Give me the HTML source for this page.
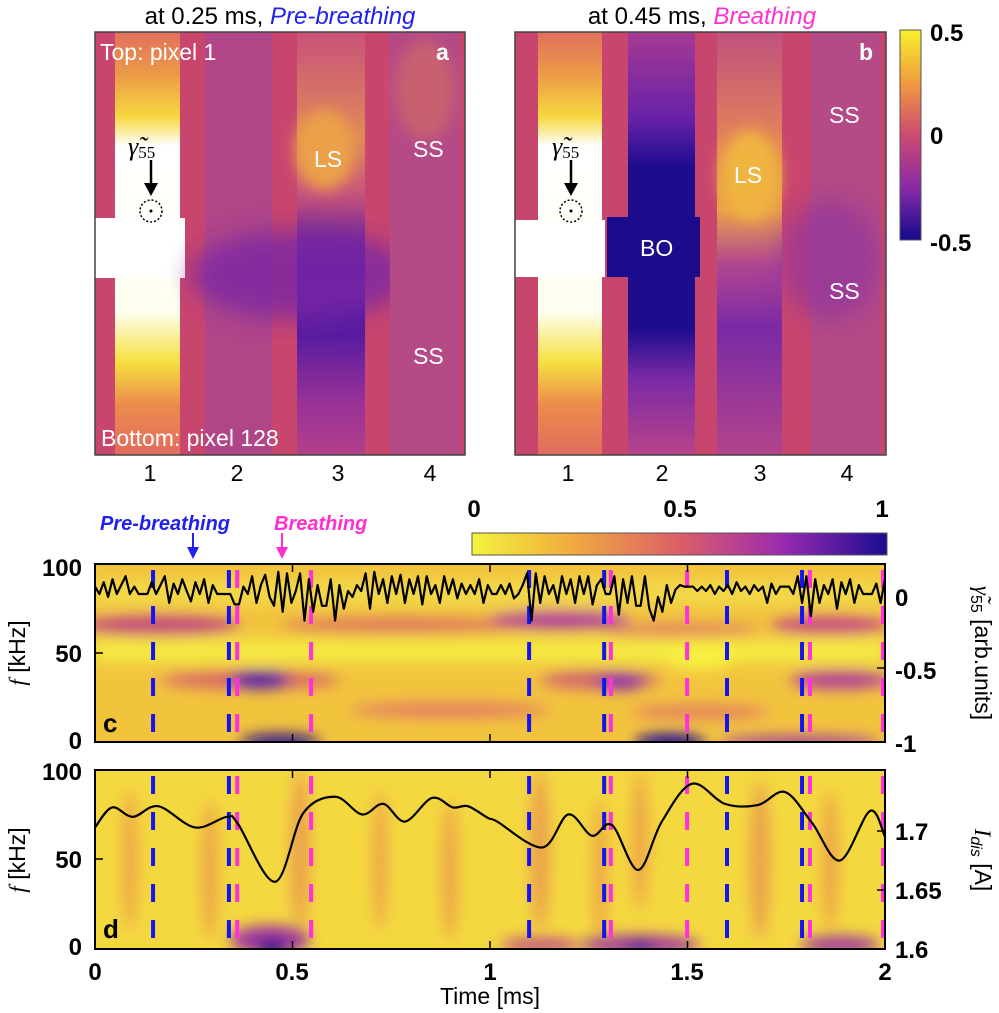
<!DOCTYPE html>
<html><head><meta charset="utf-8"><style>
html,body{margin:0;padding:0;background:#fff;}
svg{display:block;font-family:"Liberation Sans",sans-serif;}
.tk{font-weight:bold;font-size:24px;fill:#000;}
.ax{font-size:23px;fill:#000;}
.wl{fill:#fff;font-size:23px;}
</style></head><body>
<svg id="fig" width="999" height="1013" viewBox="0 0 999 1013">
<defs>
<filter id="bl" x="-50%" y="-50%" width="200%" height="200%"><feGaussianBlur stdDeviation="7"/></filter>
<filter id="bl2" x="-50%" y="-50%" width="200%" height="200%"><feGaussianBlur stdDeviation="4"/></filter>
<filter id="bl3" x="-50%" y="-50%" width="200%" height="200%"><feGaussianBlur stdDeviation="12"/></filter>
<linearGradient id="cbv" x1="0" y1="0" x2="0" y2="1">
<stop offset="0" stop-color="#f5f22a"/><stop offset="0.25" stop-color="#f29b3f"/><stop offset="0.5" stop-color="#cc4a70"/><stop offset="0.75" stop-color="#8a2aa8"/><stop offset="1" stop-color="#140a8c"/></linearGradient>
<linearGradient id="cbh" x1="0" y1="0" x2="1" y2="0">
<stop offset="0" stop-color="#f4f43a"/><stop offset="0.25" stop-color="#f0a840"/><stop offset="0.5" stop-color="#db5f68"/><stop offset="0.75" stop-color="#9a2ab0"/><stop offset="1" stop-color="#1a0c8e"/></linearGradient>
<linearGradient id="s1" x1="0" y1="0" x2="0" y2="1">
<stop offset="0" stop-color="#e0705c"/><stop offset="0.1" stop-color="#ec9a48"/><stop offset="0.2" stop-color="#f6d840"/><stop offset="0.27" stop-color="#ffffff"/><stop offset="0.66" stop-color="#fffff0"/><stop offset="0.78" stop-color="#f6e040"/><stop offset="0.88" stop-color="#ec8c4c"/><stop offset="1" stop-color="#e06c5e"/></linearGradient>
<linearGradient id="s3a" x1="0" y1="0" x2="0" y2="1">
<stop offset="0" stop-color="#c8527a"/><stop offset="0.25" stop-color="#e08a58"/><stop offset="0.38" stop-color="#c8547a"/><stop offset="0.55" stop-color="#4a16a2"/><stop offset="0.72" stop-color="#5a1ca0"/><stop offset="0.88" stop-color="#9a3296"/><stop offset="1" stop-color="#b2408a"/></linearGradient>
<linearGradient id="s2b" x1="0" y1="0" x2="0" y2="1">
<stop offset="0" stop-color="#a63a92"/><stop offset="0.2" stop-color="#6a22a8"/><stop offset="0.32" stop-color="#1c0c8e"/><stop offset="0.7" stop-color="#1c0c8e"/><stop offset="0.82" stop-color="#7a2aa6"/><stop offset="1" stop-color="#b8448a"/></linearGradient>
<linearGradient id="s3b" x1="0" y1="0" x2="0" y2="1">
<stop offset="0" stop-color="#c0507e"/><stop offset="0.25" stop-color="#e2825a"/><stop offset="0.42" stop-color="#eca04a"/><stop offset="0.55" stop-color="#b04690"/><stop offset="0.7" stop-color="#7a2aa6"/><stop offset="1" stop-color="#b2448a"/></linearGradient>
<clipPath id="cpc"><rect x="95" y="564" width="790" height="178"/></clipPath>
<clipPath id="cpd"><rect x="95" y="770" width="790" height="179"/></clipPath>
<clipPath id="cpa"><rect x="95" y="32" width="370" height="423"/></clipPath>
<clipPath id="cpb"><rect x="515" y="32" width="371" height="423"/></clipPath>
</defs>

<text x="280" y="24" text-anchor="middle" font-size="24">at 0.25 ms, <tspan font-style="italic" fill="#2020f0">Pre-breathing</tspan></text>
<text x="702" y="24" text-anchor="middle" font-size="24">at 0.45 ms, <tspan font-style="italic" fill="#ff30d0">Breathing</tspan></text>

<!-- Panel a -->
<g clip-path="url(#cpa)">
<rect x="95" y="32" width="370" height="423" fill="#c8466e"/>
<rect x="115" y="32" width="65" height="423" fill="url(#s1)"/>
<rect x="95" y="218" width="90" height="60" fill="#fff"/>
<rect x="205" y="32" width="67" height="423" fill="#b04688"/>
<rect x="297" y="32" width="68" height="423" fill="url(#s3a)"/>
<ellipse cx="325" cy="150" rx="30" ry="40" fill="#eca048" filter="url(#bl)"/>
<ellipse cx="300" cy="275" rx="110" ry="45" fill="#7a28a4" filter="url(#bl3)" opacity="0.8"/>
<rect x="390" y="32" width="70" height="423" fill="#b44a86"/>
<ellipse cx="425" cy="90" rx="30" ry="50" fill="#c86070" filter="url(#bl)"/>
</g>
<rect x="95" y="32" width="370" height="423" fill="none" stroke="#444" stroke-width="1.5"/>
<text x="100" y="60" class="wl">Top: pixel 1</text>
<text x="436" y="60" class="wl" font-weight="bold">a</text>
<text x="314" y="167" class="wl">LS</text>
<text x="413" y="157" class="wl">SS</text>
<text x="413" y="364" class="wl">SS</text>
<text x="101" y="446" class="wl">Bottom: pixel 128</text>
<text x="128" y="155" font-family="Liberation Serif,serif" font-style="italic" font-size="26">γ̃<tspan font-size="17" dy="3" font-style="normal">55</tspan></text>
<line x1="151" y1="160" x2="151" y2="185" stroke="#000" stroke-width="2.5"/>
<polygon points="144,183 158,183 151,196" fill="#000"/>
<circle cx="151" cy="211" r="11" fill="none" stroke="#000" stroke-width="1.5" stroke-dasharray="2,2"/>
<circle cx="151" cy="211" r="1.5" fill="#000"/>
<g class="ax">
<text x="150" y="481" text-anchor="middle">1</text><text x="237" y="481" text-anchor="middle">2</text><text x="338" y="481" text-anchor="middle">3</text><text x="430" y="481" text-anchor="middle">4</text></g>

<!-- Panel b -->
<g clip-path="url(#cpb)">
<rect x="515" y="32" width="371" height="423" fill="#c8466e"/>
<rect x="538" y="32" width="64" height="423" fill="url(#s1)"/>
<rect x="515" y="220" width="90" height="57" fill="#fff"/>
<rect x="628" y="32" width="67" height="423" fill="url(#s2b)"/>
<rect x="607" y="217" width="93" height="60" fill="#1a0c8c"/>
<rect x="717" y="32" width="65" height="423" fill="url(#s3b)"/>
<ellipse cx="750" cy="175" rx="30" ry="45" fill="#f0b440" filter="url(#bl)"/>
<rect x="810" y="32" width="70" height="423" fill="#b44a86"/>
<ellipse cx="830" cy="260" rx="50" ry="60" fill="#8a30a2" filter="url(#bl3)" opacity="0.6"/>
</g>
<rect x="515" y="32" width="371" height="423" fill="none" stroke="#444" stroke-width="1.5"/>
<text x="859" y="60" class="wl" font-weight="bold">b</text>
<text x="640" y="256" class="wl" font-size="24">BO</text>
<text x="734" y="183" class="wl">LS</text>
<text x="829" y="123" class="wl">SS</text>
<text x="829" y="299" class="wl">SS</text>
<text x="552" y="155" font-family="Liberation Serif,serif" font-style="italic" font-size="26">γ̃<tspan font-size="17" dy="3" font-style="normal">55</tspan></text>
<line x1="571" y1="160" x2="571" y2="185" stroke="#000" stroke-width="2.5"/>
<polygon points="564,183 578,183 571,196" fill="#000"/>
<circle cx="571" cy="211" r="11" fill="none" stroke="#000" stroke-width="1.5" stroke-dasharray="2,2"/>
<circle cx="571" cy="211" r="1.5" fill="#000"/>
<g class="ax">
<text x="568" y="481" text-anchor="middle">1</text><text x="662" y="481" text-anchor="middle">2</text><text x="760" y="481" text-anchor="middle">3</text><text x="847" y="481" text-anchor="middle">4</text></g>

<g>
<rect x="900" y="30" width="21" height="210" fill="url(#cbv)" stroke="#555" stroke-width="1"/>
<text x="930" y="41" class="tk">0.5</text><text x="930" y="144" class="tk">0</text><text x="930" y="251" class="tk">-0.5</text>
</g>

<g>
<rect x="472" y="533" width="415" height="22" fill="url(#cbh)" stroke="#555" stroke-width="1"/>
<text x="474" y="517" class="tk" text-anchor="middle">0</text><text x="680" y="517" class="tk" text-anchor="middle">0.5</text><text x="882" y="517" class="tk" text-anchor="middle">1</text>
</g>

<text x="100" y="530" font-weight="bold" font-style="italic" font-size="20" fill="#2020f0">Pre-breathing</text>
<text x="274" y="530" font-weight="bold" font-style="italic" font-size="20" fill="#ff30d0">Breathing</text>
<line x1="193" y1="533" x2="193" y2="550" stroke="#2020f0" stroke-width="2"/><polygon points="187,547 199,547 193,559" fill="#2020f0"/>
<line x1="282" y1="533" x2="282" y2="550" stroke="#ff30d0" stroke-width="2"/><polygon points="276,547 288,547 282,559" fill="#ff30d0"/>

<!-- Spectrogram c -->
<g clip-path="url(#cpc)">
<rect x="95" y="564" width="790" height="178" fill="#f2c43e"/>
<g filter="url(#bl)">
<rect x="95" y="640" width="790" height="22" fill="#f4ea42"/>
<rect x="95" y="580" width="790" height="25" fill="#f2d84a"/>
<ellipse cx="160" cy="625" rx="80" ry="10" fill="#c44c80"/>
<ellipse cx="400" cy="625" rx="120" ry="8" fill="#e07a5e"/>
<ellipse cx="560" cy="620" rx="70" ry="9" fill="#b040a0"/>
<ellipse cx="830" cy="625" rx="60" ry="9" fill="#c84c84"/>
<ellipse cx="680" cy="630" rx="80" ry="7" fill="#e48860"/>
<ellipse cx="250" cy="680" rx="90" ry="9" fill="#d86868"/>
<ellipse cx="260" cy="680" rx="30" ry="9" fill="#5a1cac"/>
<ellipse cx="600" cy="680" rx="60" ry="9" fill="#d06470"/>
<ellipse cx="620" cy="682" rx="25" ry="8" fill="#8a2aae"/>
<ellipse cx="840" cy="680" rx="50" ry="9" fill="#b0409a"/>
<ellipse cx="280" cy="742" rx="40" ry="8" fill="#2a0e96"/>
<ellipse cx="670" cy="742" rx="35" ry="9" fill="#2a0e96"/>
<ellipse cx="800" cy="742" rx="80" ry="6" fill="#a034a8"/>
<ellipse cx="450" cy="710" rx="100" ry="8" fill="#e48060"/>
<ellipse cx="700" cy="712" rx="70" ry="7" fill="#e48060"/>
<ellipse cx="700" cy="655" rx="40" ry="15" fill="#f8f040"/>
</g>
</g>
<!-- Spectrogram d -->
<g clip-path="url(#cpd)">
<rect x="95" y="770" width="790" height="179" fill="#f4d840"/>
<g filter="url(#bl)" opacity="0.8">
<ellipse cx="130" cy="860" rx="8" ry="70" fill="#ec9c48"/>
<ellipse cx="210" cy="870" rx="9" ry="70" fill="#ec9c48"/>
<ellipse cx="300" cy="850" rx="10" ry="80" fill="#e89450"/>
<ellipse cx="380" cy="860" rx="8" ry="70" fill="#ec9c48"/>
<ellipse cx="450" cy="870" rx="9" ry="70" fill="#ec9c48"/>
<ellipse cx="540" cy="850" rx="10" ry="80" fill="#e89450"/>
<ellipse cx="600" cy="870" rx="8" ry="70" fill="#ec9c48"/>
<ellipse cx="640" cy="840" rx="9" ry="70" fill="#ec9c48"/>
<ellipse cx="760" cy="860" rx="10" ry="80" fill="#e89450"/>
<ellipse cx="830" cy="860" rx="9" ry="70" fill="#ec9c48"/>
</g>
<g filter="url(#bl)">
<ellipse cx="270" cy="940" rx="40" ry="15" fill="#a03aa0"/>
<ellipse cx="272" cy="948" rx="15" ry="9" fill="#22108e"/>
<ellipse cx="640" cy="945" rx="60" ry="10" fill="#a03aa0"/>
<ellipse cx="640" cy="948" rx="15" ry="6" fill="#3a14a0"/>
<ellipse cx="840" cy="945" rx="40" ry="9" fill="#a03aa0"/>
<ellipse cx="540" cy="945" rx="40" ry="7" fill="#c04c88"/>
</g>
</g>

<g id="overlays"></g>

<rect x="95" y="564" width="790" height="178" fill="none" stroke="#000" stroke-width="2"/>
<rect x="95" y="770" width="790" height="179" fill="none" stroke="#000" stroke-width="2"/>
<g class="tk">
<text x="82" y="576" text-anchor="end">100</text><text x="82" y="662" text-anchor="end">50</text><text x="82" y="749" text-anchor="end">0</text></g>
<g class="tk">
<text x="82" y="780" text-anchor="end">100</text><text x="82" y="868" text-anchor="end">50</text><text x="82" y="955" text-anchor="end">0</text></g>
<g class="tk">
<text x="895" y="606">0</text><text x="895" y="679">-0.5</text><text x="895" y="752">-1</text></g>
<g class="tk">
<text x="895" y="840">1.7</text><text x="895" y="899">1.65</text><text x="895" y="958">1.6</text></g>
<g class="tk">
<text x="95" y="980" text-anchor="middle">0</text><text x="292" y="980" text-anchor="middle">0.5</text><text x="490" y="980" text-anchor="middle">1</text><text x="687" y="980" text-anchor="middle">1.5</text><text x="885" y="980" text-anchor="middle">2</text></g>
<text x="490" y="1004" text-anchor="middle" class="ax">Time [ms]</text>
<text transform="translate(25,653) rotate(-90)" text-anchor="middle" font-size="23"><tspan font-family="Liberation Serif,serif" font-style="italic">f</tspan> [kHz]</text>
<text transform="translate(25,860) rotate(-90)" text-anchor="middle" font-size="23"><tspan font-family="Liberation Serif,serif" font-style="italic">f</tspan> [kHz]</text>
<text transform="translate(975,653) rotate(90)" text-anchor="middle" font-size="23"><tspan font-family="Liberation Serif,serif" font-style="italic">γ̃</tspan><tspan font-size="16" dy="4">55</tspan><tspan dy="-4"> [arb.units]</tspan></text>
<text transform="translate(975,860) rotate(90)" text-anchor="middle" font-size="23"><tspan font-family="Liberation Serif,serif" font-style="italic">I</tspan><tspan font-size="16" dy="4" font-style="italic">dis</tspan><tspan dy="-4"> [A]</tspan></text>
<text x="103" y="732" font-weight="bold" font-size="26">c</text>
<text x="103" y="938" font-weight="bold" font-size="26">d</text>
</svg>
<script>
const blueTimes = [0.147, 0.339, 1.099, 1.289, 1.60, 1.79];
const magentaTimes = [0.36, 0.547, 1.306, 1.499, 1.81, 1.995];
const gammaValues = [0.05,0.0,0.08,-0.02,0.1,0.0,0.06,0.12,0.0,0.05,0.0,0.0,0.0,0.08,0.0,0.06,0.12,-0.06,0.07,0.0,0.1,0.02,-0.05,0.08,0.0,0.1,-0.06,0.06,0.0,0.0,0.0,0.0,-0.07,-0.07,0.05,0.0,0.12,-0.06,0.06,0.13,-0.02,-0.08,0.15,-0.12,0.14,-0.06,0.02,0.14,-0.18,0.1,-0.12,0.06,-0.08,-0.08,0.1,-0.18,0.06,-0.1,0.02,-0.02,0.06,0.02,0.14,-0.1,0.15,0.0,0.1,-0.06,0.12,0.0,0.13,-0.06,0.1,0.0,0.12,-0.07,0.12,0.0,0.06,-0.06,0.12,0.0,0.1,-0.03,0.07,0.0,0.06,0.0,0.1,-0.06,0.06,0.0,0.0,0.06,0.0,0.07,-0.03,0.0,0.06,0.14,-0.18,0.14,-0.06,0.12,0.0,0.06,-0.06,0.12,0.0,0.1,-0.06,0.12,0.0,0.12,-0.07,0.06,0.1,0.0,0.0,0.12,-0.14,0.1,-0.06,0.12,-0.08,-0.08,0.12,-0.1,-0.18,-0.02,-0.12,0.06,-0.06,0.03,0.06,0.05,0.05,0.05,0.02,0.05,0.02,0.06,0.0,0.05,0.02,0.06,0.0,0.08,0.02,0.05,0.0,0.06,0.02,0.05,-0.06,0.07,0.0,0.05,0.05,0.05,0.0,0.12,-0.06,0.12,-0.15,0.1,-0.06,0.06,0.0,0.1,-0.1,0.08,0.0,0.1,-0.06,0.06,0.0,0.0,0.0,0.07,-0.06,0.1];
const idisTimes = [0,0.043,0.096,0.16,0.253,0.334,0.362,0.456,0.527,0.608,0.676,0.73,0.785,0.853,0.906,0.944,0.995,1.018,1.132,1.198,1.258,1.309,1.375,1.435,1.511,1.595,1.678,1.747,1.815,1.886,1.962,2.0];
const idisValues = [1.703,1.720,1.712,1.721,1.703,1.712,1.706,1.657,1.715,1.729,1.714,1.723,1.708,1.728,1.720,1.721,1.711,1.708,1.686,1.714,1.696,1.705,1.667,1.708,1.740,1.723,1.722,1.733,1.707,1.675,1.717,1.695];

const X = t => 95 + t * 395;
const Yc = v => 594 - v * 148;
const Yd = v => 949 - (v - 1.6) * 1180;
const NS = 'http://www.w3.org/2000/svg';
const ov = document.getElementById('overlays');
function mk(tag, attrs){const e=document.createElementNS(NS,tag);for(const k in attrs)e.setAttribute(k,attrs[k]);ov.appendChild(e);return e;}

[[564,742],[770,949]].forEach(([y0,y1])=>{
  blueTimes.forEach(t=>{
    const l=mk('line',{x1:X(t),x2:X(t),y1:y0+6,y2:y1,stroke:'#1414f0','stroke-width':4,'stroke-dasharray':'18,18'});
    
    
  });
  magentaTimes.forEach(t=>{
    const l=mk('line',{x1:X(t),x2:X(t),y1:y0+6,y2:y1,stroke:'#ff30e0','stroke-width':4,'stroke-dasharray':'18,18'});
    
    
  });
});
[0.5,1,1.5].forEach(t=>{
  [[564,1],[742,-1],[770,1],[949,-1]].forEach(([y,s])=>{mk('line',{x1:X(t),x2:X(t),y1:y,y2:y+8*s,stroke:'#000','stroke-width':1.5});});
});
[[95,653,1],[95,859,1],[885,668,-1],[885,831,-1],[885,890,-1]].forEach(([x,y,s])=>{mk('line',{x1:x,x2:x+8*s,y1:y,y2:y,stroke:'#000','stroke-width':1.5});});

let d='';
gammaValues.forEach((v,i)=>{const t=2*i/(gammaValues.length-1);d+=(i?'L':'M')+X(t).toFixed(1)+','+Yc(v).toFixed(1);});
const gl=mk('path',{d:d,fill:'none',stroke:'#000','stroke-width':2.2,'stroke-linejoin':'round'});



const pts=idisTimes.map((t,i)=>[X(t),Yd(idisValues[i])]);
let p='M'+pts[0][0]+','+pts[0][1];
for(let i=0;i<pts.length-1;i++){
  const p0=pts[Math.max(0,i-1)],p1=pts[i],p2=pts[i+1],p3=pts[Math.min(pts.length-1,i+2)];
  const c1=[p1[0]+(p2[0]-p0[0])/6,p1[1]+(p2[1]-p0[1])/6];
  const c2=[p2[0]-(p3[0]-p1[0])/6,p2[1]-(p3[1]-p1[1])/6];
  p+='C'+c1.join(',')+' '+c2.join(',')+' '+p2.join(',');
}
const il=mk('path',{d:p,fill:'none',stroke:'#000','stroke-width':2.2});


</script>
</body></html>
